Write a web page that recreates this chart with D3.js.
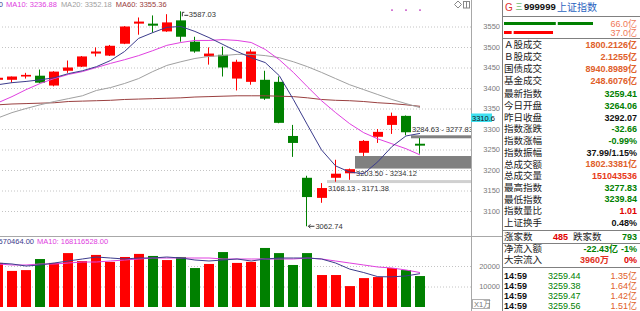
<!DOCTYPE html>
<html>
<head>
<meta charset="utf-8">
<title></title>
<style>
  body { margin: 0; background: #fff; }
  svg { display: block; font-family: "Liberation Sans", Arial, "Noto Sans CJK SC", sans-serif; }
</style>
</head>
<body>
<script src="https://d3js.org/d3.v7.min.js"></script>
<script>
// daily candles of the index, oldest first, the last one is today
var open  = [3420, 3420, 3428, 3430, 3406, 3442, 3452, 3484, 3479, 3508, 3557, 3557, 3538, 3565, 3513, 3477,
             3481, 3423, 3415, 3420, 3415, 3283, 3181, 3132, 3181, 3192, 3242, 3281, 3310, 3332, 3264.06];
var high  = [3428, 3428, 3437, 3445, 3441, 3467, 3478, 3499, 3505, 3551, 3572, 3577, 3580, 3587.03, 3525, 3499,
             3501, 3469, 3494, 3442, 3428, 3310, 3186, 3168.13, 3225, 3203.50, 3273, 3300, 3340, 3333, 3277.83];
var low   = [3416, 3413, 3423, 3412, 3404, 3437, 3451, 3477, 3478, 3507, 3530, 3535, 3537, 3513, 3486, 3457,
             3428, 3394, 3408, 3371, 3314, 3232, 3062.74, 3120, 3171.38, 3176, 3234.12, 3266, 3288, 3284.63, 3239.84];
var close = [3425, 3428, 3432, 3413, 3440, 3450, 3477, 3489, 3503, 3550, 3562, 3552, 3560, 3525, 3489, 3484,
             3450, 3464, 3489, 3374, 3315, 3266, 3134, 3156, 3191, 3202, 3271, 3293, 3332, 3292.07, 3259.41];

var ma5  = [3408, 3413, 3416, 3420, 3425, 3435, 3442, 3452, 3467, 3489, 3521, 3535, 3548, 3550, 3538, 3523,
            3506, 3489, 3474, 3462, 3430, 3372, 3310, 3249, 3210, 3195, 3191, 3220, 3257, 3283, 3289.20];
var ma10 = [3364, 3379, 3396, 3411, 3423, 3433, 3440, 3450, 3460, 3469, 3479, 3491, 3504, 3511, 3516, 3516,
            3518, 3516, 3511, 3494, 3469, 3438, 3403, 3369, 3340, 3313, 3291, 3276, 3264, 3252, 3236.88];
var ma20 = [3327, 3340, 3350, 3359, 3367, 3374, 3381, 3394, 3401, 3411, 3423, 3440, 3455, 3464, 3472, 3477,
            3479, 3482, 3482, 3479, 3474, 3464, 3452, 3438, 3423, 3408, 3396, 3384, 3372, 3362, 3352.18];
var ma60 = [3359, 3361, 3362, 3363, 3364, 3367, 3368, 3369, 3370, 3372, 3373, 3374, 3375, 3376, 3378, 3379,
            3380, 3381, 3381, 3381, 3380, 3379, 3376, 3372, 3370, 3369, 3367, 3364, 3362, 3359, 3355.36];

// volume in units of 10 000
var volume = [21500, 17600, 18000, 23400, 21500, 26300, 22400, 25400, 22000, 24400, 25900, 24900, 22900, 24400, 19000, 21000,
              26800, 21500, 22000, 28800, 26300, 20500, 26300, 15600, 15600, 10200, 14100, 14600, 19000, 18000, 15104];
var volMa5  = [21460, 20980, 20000, 20490, 21460, 22440, 23420, 24390, 23900, 23420, 23900, 23900, 24390, 23900, 22930, 22440,
               22930, 23420, 22440, 23420, 23900, 23900, 23900, 23420, 21460, 18500, 16800, 14800, 14700, 15150, 16257];
var volMa10 = [20980, 20490, 20490, 20980, 20980, 21460, 21950, 21950, 22440, 22930, 23420, 23900, 23900, 23900, 23900, 23900,
               23420, 23420, 23420, 23420, 23420, 23420, 23900, 23420, 22440, 21460, 20490, 19510, 19020, 18050, 16812];

var priceTicks = [3100, 3150, 3200, 3250, 3300, 3350, 3400, 3450, 3500, 3550];
var volTicks = [10000, 20000];

// unfilled gaps: candle where the gap opens, lower and upper edge, label text
var gapStart = [23, 25, 29];
var gapLow   = [3168.13, 3203.50, 3277.83];
var gapHigh  = [3171.38, 3234.12, 3284.63];
var gapText  = ['3168.13 - 3171.38', '3203.50 - 3234.12', '3284.63 - 3277.83'];

var maNames = ['MA5', 'MA10', 'MA20', 'MA60'];
var maLast  = ['3289.20', '3236.88', '3352.18', '3355.36'];
var volMaNames = ['MA5', 'MA10'];
var volMaLast  = ['162570464.00', '168116528.00'];

// quote panel
var flowIn  = [39.0, 27.0];
var flowOut = [7.0, 30.0];
var flowText = ['66.0亿', '37.0亿'];
var infoLabels = ['Ａ股成交', 'Ｂ股成交', '国债成交', '基金成交', '最新指数', '今日开盘', '昨日收盘', '指数涨跌',
                  '指数涨幅', '指数振幅', '总成交额', '总成交量', '最高指数', '最低指数', '指数量比', '上证换手'];
var infoValues = ['1800.2126亿', '2.1255亿', '8940.8989亿', '248.6076亿', '3259.41', '3264.06', '3292.07', '-32.66',
                  '-0.99%', '37.99/1.15%', '1802.3381亿', '151043536', '3277.83', '3239.84', '1.01', '0.48%'];
var tickTimes  = ['14:59', '14:59', '14:59', '14:59'];
var tickPrices = ['3259.44', '3259.38', '3259.47', '3259.56'];
var tickAmounts = ['1.35亿', '1.64亿', '1.42亿', '1.51亿'];

var RED = '#ff0000', GREEN = '#008000', ORANGE = '#e0602a';
var maColours = ['#3c3c8c', '#e040e0', '#a0a0a0', '#9a4040'];

var svg = d3.select('body').append('svg')
    .attr('width', 640)
    .attr('height', 311);

svg.append('defs').append('clipPath').attr('id', 'plot')
    .append('rect').attr('width', 471).attr('height', 311);

var x = d3.scaleLinear().domain([1, 30]).range([12, 420]);
var y = d3.scaleLinear().domain([3100, 3550]).range([211, 26.5]);
var vy = d3.scaleLinear().domain([0, 20000]).range([307, 266]);

// dotted grid lines
function grid(scale, ticks) {
    svg.append('g')
        .attr('transform', 'translate(471,0)')
        .call(d3.axisLeft(scale).tickValues(ticks).tickSize(471).tickFormat(''))
        .call(function (g) { g.select('.domain').remove(); })
        .selectAll('line')
        .attr('stroke', '#c4c4c4')
        .attr('stroke-dasharray', '1,2');
}
grid(y, priceTicks);
grid(vy, volTicks);

// axis labels
function labels(scale, ticks) {
    var g = svg.append('g')
        .attr('transform', 'translate(501,0)')
        .call(d3.axisLeft(scale).tickValues(ticks).tickSize(0).tickPadding(1).tickFormat(d3.format('d')));
    g.select('.domain').remove();
    g.attr('font-family', null).attr('font-size', 7.5);
    g.selectAll('text').attr('fill', '#7a7a7a');
}
labels(y, priceTicks);
labels(vy, volTicks);

// frame lines
svg.append('line').attr('x1', 471.5).attr('x2', 471.5).attr('y1', 0).attr('y2', 311).attr('stroke', '#a8a8a8');
svg.append('line').attr('x1', 502.5).attr('x2', 502.5).attr('y1', 0).attr('y2', 311).attr('stroke', '#808080');
svg.append('line').attr('x1', 0).attr('x2', 502).attr('y1', 236.5).attr('y2', 236.5).attr('stroke', '#a8a8a8');

var plot = svg.append('g').attr('clip-path', 'url(#plot)');

// gap bands
gapStart.forEach(function (s, k) {
    var top = y(gapHigh[k]), bot = y(gapLow[k]);
    var h = Math.max(bot - top, 3);
    plot.append('rect')
        .attr('x', Math.round(x(s)) + 5)
        .attr('y', k === 0 ? bot - h : top)
        .attr('width', 471)
        .attr('height', h)
        .attr('fill', k === 0 ? '#d0d0d0' : '#808080');
    plot.append('text')
        .attr('x', Math.round(x(s)) + 6)
        .attr('y', k === 2 ? top - 6 : bot + 5)
        .attr('dy', '0.35em')
        .attr('font-size', 7.5)
        .attr('fill', '#333')
        .text(gapText[k]);
});

// candles
var idx = d3.range(open.length);
function col(i) { return close[i] >= open[i] ? RED : GREEN; }

plot.selectAll('line.wick').data(idx).enter().append('line')
    .attr('class', 'wick')
    .attr('x1', function (i) { return Math.round(x(i)) - 0.5; })
    .attr('x2', function (i) { return Math.round(x(i)) - 0.5; })
    .attr('y1', function (i) { return y(high[i]); })
    .attr('y2', function (i) { return y(low[i]); })
    .attr('stroke', col);

plot.selectAll('rect.body').data(idx).enter().append('rect')
    .attr('class', 'body')
    .attr('x', function (i) { return Math.round(x(i)) - 5; })
    .attr('y', function (i) { return y(Math.max(open[i], close[i])); })
    .attr('width', 10)
    .attr('height', function (i) { return Math.max(1.2, Math.abs(y(open[i]) - y(close[i]))); })
    .attr('fill', col);

// moving averages
var line = d3.line().x(function (d, i) { return x(i); }).y(function (d) { return y(d); });
[ma60, ma20, ma10, ma5].forEach(function (s, k) {
    plot.append('path').datum(s)
        .attr('d', line)
        .attr('fill', 'none')
        .attr('stroke', maColours[3 - k])
        .attr('stroke-width', 1);
});

// volume
plot.selectAll('rect.vol').data(idx).enter().append('rect')
    .attr('class', 'vol')
    .attr('x', function (i) { return Math.round(x(i)) - 5; })
    .attr('y', function (i) { return vy(volume[i]); })
    .attr('width', 10)
    .attr('height', function (i) { return vy(0) - vy(volume[i]); })
    .attr('fill', col);

var vline = d3.line().x(function (d, i) { return x(i); }).y(function (d) { return vy(d); });
[volMa10, volMa5].forEach(function (s, k) {
    plot.append('path').datum(s)
        .attr('d', vline)
        .attr('fill', 'none')
        .attr('stroke', k === 0 ? maColours[1] : maColours[0]);
});

// high / low markers
var hi = 13, lo = 22;
plot.append('path')
    .attr('d', 'M' + (x(hi) + 1.5) + ',' + (y(high[hi]) + 5) + 'v-4h2m0,3h4')
    .attr('fill', 'none').attr('stroke', '#333');
plot.append('text').attr('x', x(hi) + 8).attr('y', y(high[hi]) + 3).attr('dy', '0.35em')
    .attr('font-size', 7.5).attr('fill', '#333').text(d3.format('.2f')(high[hi]));
plot.append('path')
    .attr('d', 'M' + (x(lo) + 7) + ',' + y(low[lo]) + 'h-6m2,-2l-2,2l2,2')
    .attr('fill', 'none').attr('stroke', '#333');
plot.append('text').attr('x', x(lo) + 8).attr('y', y(low[lo])).attr('dy', '0.35em')
    .attr('font-size', 7.5).attr('fill', '#333').text(d3.format('.2f')(low[lo]));

// signal dots along the top
[28, 29, 30].forEach(function (i) {
    plot.append('rect').attr('x', Math.round(x(i)) - 1).attr('y', 9.5).attr('width', 2).attr('height', 1.2).attr('fill', '#c040c0');
});

// legends (the first entry runs off the left edge, as in the terminal)
function legend(names, vals, yy, startX, colours) {
    svg.append('text').attr('x', startX - 3).attr('y', yy).attr('dy', '0.35em')
        .attr('font-size', 7.5).attr('text-anchor', 'end').attr('fill', colours[0])
        .text(names[0] + ': ' + vals[0]);
    var cx = startX;
    for (var k = 1; k < names.length; k++) {
        var t = svg.append('text').attr('x', cx).attr('y', yy).attr('dy', '0.35em')
            .attr('font-size', 7.5).attr('fill', colours[k])
            .text(names[k] + ': ' + vals[k]);
        cx += t.node().getComputedTextLength() + 4;
    }
}
legend(maNames, maLast, 4.5, 6, maColours);
legend(volMaNames, volMaLast, 241, 37, maColours);

// cursor price box
svg.append('rect').attr('x', 471).attr('y', 113.5).attr('width', 21).attr('height', 8.5).attr('fill', '#3fe0f0');
svg.append('text').attr('x', 472).attr('y', 118).attr('dy', '0.35em').attr('font-size', 7.5).attr('fill', '#111').text('3310.6');

// unit box
svg.append('rect').attr('x', 472.5).attr('y', 299.5).attr('width', 17).attr('height', 9).attr('fill', 'none').attr('stroke', '#b0b0b0');
svg.append('text').attr('x', 474).attr('y', 304).attr('dy', '0.35em').attr('font-size', 7.5).attr('fill', '#777').text('X1万');

// small icons
svg.append('path').attr('d', 'M458,1L461.5,4.5L458,8L454.5,4.5Z').attr('fill', 'none').attr('stroke', '#888');
svg.append('rect').attr('x', 463.5).attr('y', 1.5).attr('width', 6).attr('height', 6.5).attr('fill', 'none').attr('stroke', '#888');
svg.append('line').attr('x1', 466.5).attr('x2', 466.5).attr('y1', 1.5).attr('y2', 8).attr('stroke', '#888');

// ---- quote panel ----
var panel = svg.append('g');
function txt(xx, yy, s, size, fill, anchor, weight, fam) {
    return panel.append('text').attr('x', xx).attr('y', yy).attr('dy', '0.35em')
        .attr('font-size', size).attr('fill', fill)
        .attr('text-anchor', anchor || 'start')
        .attr('font-weight', weight || 'normal')
        .attr('font-family', fam || null)
        .text(s);
}
var CJK = '"Noto Sans CJK SC", sans-serif';
var LAB = 9.5;

txt(505, 7, 'G', 10, '#e03030');
txt(515.5, 7, '三', 7, '#30a030', 'start', 'normal', CJK);
txt(524, 7, '999999', 9.5, '#111', 'start', 'bold');
txt(557, 7, '上证指数', 10, '#2a64c0', 'start', 'normal', CJK);

function hline(yy) {
    panel.append('line').attr('x1', 503).attr('x2', 640).attr('y1', yy).attr('y2', yy).attr('stroke', '#808080');
}
[16.5, 38.5, 230.5, 243.5, 267.5].forEach(hline);

var bx = d3.scaleLinear().domain([0, 66]).range([0, 91]);
[[flowIn, GREEN, 22], [flowOut, RED, 31]].forEach(function (f, r) {
    var acc = 0;
    f[0].forEach(function (v) {
        panel.append('rect').attr('x', 504 + bx(acc)).attr('y', f[2])
            .attr('width', bx(v) - 2).attr('height', 3).attr('fill', f[1]);
        acc += v;
    });
    txt(637, f[2] + 1.5, flowText[r], 9, '#f07858', 'end');
});

var valueColour = {
    '最新指数': GREEN, '今日开盘': GREEN, '指数涨跌': GREEN, '指数涨幅': GREEN, '最高指数': GREEN, '最低指数': GREEN,
    '昨日收盘': '#111', '指数振幅': '#111', '上证换手': '#111', '总成交量': '#e83818', '指数量比': '#e00000'
};
infoLabels.forEach(function (lab, k) {
    var yy = k < 4 ? 45 + k * 12 : 94 + (k - 4) * 11.7;
    txt(504, yy, lab, LAB, '#222', 'start', 'normal', CJK);
    txt(637, yy, infoValues[k], 9, valueColour[lab] || ORANGE, 'end', 'bold');
});

txt(504, 237, '涨家数', LAB, '#222', 'start', 'normal', CJK);
txt(568, 237, '485', 9, '#e00000', 'end', 'bold');
txt(573, 237, '跌家数', LAB, '#222', 'start', 'normal', CJK);
txt(637, 237, '793', 9, GREEN, 'end', 'bold');

txt(504, 248.5, '净流入额', LAB, '#222', 'start', 'normal', CJK);
txt(618, 248.5, '-22.43亿', 9, GREEN, 'end', 'bold');
txt(637, 248.5, '-1%', 9, GREEN, 'end', 'bold');
txt(504, 260, '大宗流入', LAB, '#222', 'start', 'normal', CJK);
txt(609, 260, '3960万', 9, '#e03020', 'end', 'bold');
txt(637, 260, '0%', 9, '#e00000', 'end', 'bold');

tickTimes.forEach(function (t, k) {
    var yy = 276 + k * 9.9;
    txt(504, yy, t, 9, '#111', 'start', 'bold');
    txt(548, yy, tickPrices[k], 9, GREEN);
    txt(637, yy, tickAmounts[k], 9, ORANGE, 'end');
});
</script>
</body>
</html>
